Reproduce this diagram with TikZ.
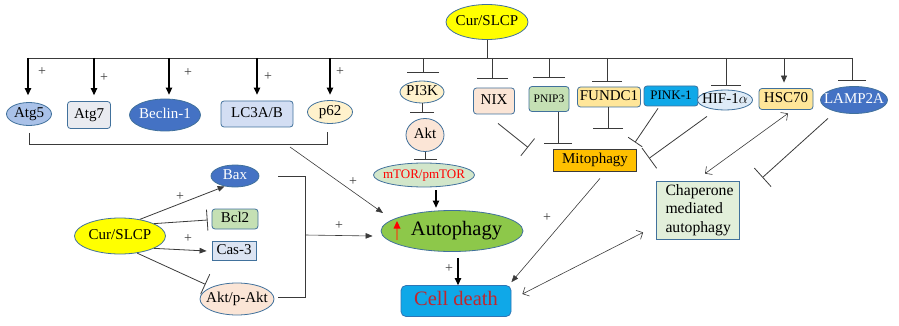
\documentclass[tikz,border=0pt]{standalone}
\usepackage{fontspec}
\setmainfont{Liberation Serif}
\usetikzlibrary{shapes.geometric,arrows.meta}
\definecolor{bord}{HTML}{41719C}
\definecolor{cYel}{HTML}{FFFF00}
\definecolor{cAtg}{HTML}{A9C1E8}
\definecolor{cGray}{HTML}{E9EBF0}
\definecolor{cBlue}{HTML}{4472C4}
\definecolor{cLC}{HTML}{D3DEF3}
\definecolor{cCream}{HTML}{FFF2CC}
\definecolor{cPeach}{HTML}{FBE5D6}
\definecolor{cMtor}{HTML}{D2E6CA}
\definecolor{cGreen}{HTML}{C5E0B4}
\definecolor{cGold}{HTML}{FFE699}
\definecolor{cCyan}{HTML}{0FA8E8}
\definecolor{cHif}{HTML}{DEEBF7}
\definecolor{cOrange}{HTML}{FFC000}
\definecolor{cAuto}{HTML}{8DC84A}
\definecolor{cChap}{HTML}{E2EFDA}
\definecolor{cCas}{HTML}{DCE4F2}
\definecolor{cRed}{HTML}{C0262D}
\definecolor{cDeath}{HTML}{2F75B5}
\definecolor{cShaft}{HTML}{C8782A}
\definecolor{ln}{HTML}{3A3A3A}
\begin{document}
\begin{tikzpicture}[x=1pt,y=-1pt,
  box/.style={draw=bord, line width=0.8pt, rounded corners=3pt, inner sep=0pt,
    text height=10pt, text depth=3pt, font=\fontsize{15}{17}\selectfont},
  ell/.style={ellipse, draw=bord, line width=0.8pt, inner xsep=-12pt, inner ysep=-4pt,
    text height=10pt, text depth=3pt, font=\fontsize{15}{17}\selectfont},
  chapbox/.style={draw=bord, line width=0.8pt, inner sep=0pt, align=left,
    font=\fontsize{15.7}{18.5}\selectfont},
  act/.style={draw=black, line width=1.3pt, -{Triangle[length=7pt,width=6.5pt]}},
  lnthin/.style={draw=ln, line width=0.6pt},
  tarrow/.style={lnthin, -{Triangle[length=7pt,width=5.5pt]}},
  dbl/.style={lnthin, {Straight Barb[length=5pt,width=10pt]}-{Straight Barb[length=5pt,width=10pt]}},
  inh/.style={draw=ln, line width=0.8pt, -{Bar[width=#1]}},
  inh/.default=30pt,
  pl/.style={font=\fontsize{14}{14}\selectfont, inner sep=0pt, text=ln}]
\useasboundingbox (0,0) rectangle (899,326);

% ---- nodes ----
\node[ell, fill=cYel, minimum width=82pt, minimum height=35pt] (cur1) at (487,22) {Cur/SLCP};
\node[ell, fill=cAtg, minimum width=45pt, minimum height=23pt] (atg5) at (29,114) {Atg5};
\node[box, fill=cGray, minimum width=43pt, minimum height=27pt] (atg7) at (89,115) {Atg7};
\node[ell, fill=cBlue, text=white, minimum width=71pt, minimum height=32pt] (beclin) at (165,115) {Beclin-1};
\node[box, fill=cLC, minimum width=72pt, minimum height=26pt] (lc3) at (257,114) {LC3A/B};
\node[ell, fill=cCream, minimum width=45pt, minimum height=23pt] (p62) at (330,112) {p62};
\node[ell, fill=cCream, minimum width=44pt, minimum height=22pt] (pi3k) at (422,92) {PI3K};
\node[ell, fill=cPeach, minimum width=38pt, minimum height=33pt] (akt) at (425,135) {Akt};
\node[ell, fill=cMtor, text=red, font=\fontsize{13}{15}\selectfont, minimum width=101pt, minimum height=24pt] (mtor) at (424,175) {mTOR/pmTOR};
\node[ell, fill=cAuto, font=\fontsize{20.5}{24}\selectfont, text height=13pt, text depth=4pt, minimum width=142pt, minimum height=41pt] (auto) at (452,231) {\hspace*{9pt}Autophagy};
\node[box, fill=cCyan, draw=cDeath, text=cRed, rounded corners=5pt, font=\fontsize{20.5}{24}\selectfont, text height=13pt, text depth=4pt, minimum width=110pt, minimum height=31pt] (death) at (456,301) {Cell death};
\node[box, fill=cPeach, minimum width=41pt, minimum height=26pt] (nix) at (494,101) {NIX};
\node[box, fill=cGreen, font=\fontsize{11.5}{13}\selectfont, minimum width=40pt, minimum height=25pt] (pnip) at (549,99) {PNIP3};
\node[box, fill=cGold, minimum width=63pt, minimum height=20pt] (fundc) at (609,97) {FUNDC1};
\node[box, fill=cCyan, font=\fontsize{13}{15}\selectfont, minimum width=54pt, minimum height=20pt] (pink) at (671,96) {PINK-1};
\node[ell, fill=cHif, minimum width=55pt, minimum height=20pt] (hif) at (725,100) {HIF-1$\alpha$};
\node[box, fill=cGold, minimum width=54pt, minimum height=21pt] (hsc) at (786,99) {HSC70};
\node[ell, fill=cBlue, text=white, minimum width=67pt, minimum height=27pt] (lamp) at (854,100) {LAMP2A};
\node[box, fill=cOrange, draw=ln, rounded corners=0pt, minimum width=83pt, minimum height=22pt] (mito) at (595,160) {Mitophagy};
\node[chapbox, fill=cChap, minimum width=83pt, minimum height=58pt] (chap) at (698,210) {\hspace*{3pt}Chaperone\\\hspace*{3pt}mediated\\\hspace*{3pt}autophagy};
\node[ell, fill=cYel, minimum width=91pt, minimum height=36pt] (cur2) at (120,236) {Cur/SLCP};
\node[ell, fill=cBlue, text=white, minimum width=48pt, minimum height=22pt] (bax) at (235,176) {Bax};
\node[box, fill=cGreen, minimum width=46pt, minimum height=20pt] (bcl) at (235,219) {Bcl2};
\node[box, fill=cCas, rounded corners=0pt, minimum width=44pt, minimum height=19pt] (cas) at (234,251) {Cas-3};
\node[ell, fill=cPeach, minimum width=74pt, minimum height=32pt] (aktp) at (237,299) {Akt/p-Akt};

% red up arrow inside Autophagy
\draw[cShaft, line width=1.2pt] (397,240) -- (397,227);
\fill[red] (393.5,228.5) -- (400.5,228.5) -- (397,221) -- cycle;

% ---- bus line ----
\coordinate (hl) at (0,58);
\coordinate (b1) at (28,58);
\coordinate (b2) at (94,58);
\coordinate (b3) at (169,58);
\coordinate (b4) at (257,58);
\coordinate (b5) at (330,58);
\coordinate (b6) at (423,58);
\coordinate (b7) at (492,58);
\coordinate (b8) at (549,58);
\coordinate (b9) at (607,58);
\coordinate (b10) at (726,58);
\coordinate (b11) at (784,58);
\coordinate (b12) at (852,58);
\draw[lnthin, line width=0.8pt] (cur1.south) -- (cur1.south |- hl);
\draw[lnthin, line width=0.8pt] (b1) -- (b12);

\draw[act, shorten >=7pt] (b1) -- (b1 |- atg5.north);
\draw[act, shorten >=6pt] (b2) -- (b2 |- atg7.north);
\draw[act, shorten >=4pt] (b3) -- (b3 |- beclin.north);
\draw[act, shorten >=6pt] (b4) -- (b4 |- lc3.north);
\draw[act, shorten >=5.5pt] (b5) -- (b5 |- p62.north);
\node[pl] (pA) at (42,72) {+};
\node[pl] (pB) at (104,78) {+};
\node[pl] (pC) at (188,73) {+};
\node[pl] (pD) at (268,77) {+};
\node[pl] (pE) at (340,72) {+};

\draw[inh=32pt, shorten >=8pt] (b6) -- (b6 |- pi3k.north);
\draw[inh=31pt, shorten >=9pt] (b7) -- (b7 |- nix.north);
\draw[inh=32pt, shorten >=8.5pt] (b8) -- (b8 |- pnip.north);
\draw[inh=30pt, shorten >=5pt] (b9) -- (b9 |- fundc.north);
\draw[inh=30pt, shorten >=4pt] (b10) -- (b10 |- hif.north);
\draw[lnthin, line width=0.8pt, -{Triangle[length=7pt,width=6pt]}, shorten >=5.5pt] (b11) -- (b11 |- hsc.north);
\draw[inh=28pt, shorten >=5.5pt] (b12) -- (b12 |- lamp.north);

% ---- bracket under autophagy genes ----
\draw[lnthin] ([yshift=-7pt]atg5.south) -- ++(0,11) -| ([xshift=-3pt,yshift=-8pt]p62.south);
\coordinate (brkout) at (290,147);
\coordinate (autoIn) at (383,213);
\draw[tarrow] (brkout) -- (autoIn);
\node[pl] (pF) at (353,182) {+};

% ---- PI3K / Akt / mTOR ----
\draw[inh=24pt, shorten >=5pt] (pi3k.south) -- (pi3k.south |- akt.north);
\draw[inh=23pt, shorten >=3pt] (akt.south) -- (akt.south |- mtor.north);
\draw[act, line width=1.1pt] ([xshift=12pt,yshift=-3pt]mtor.south) -- ([xshift=-16pt,yshift=2.5pt]auto.north);
\draw[act, line width=1.1pt] ([xshift=6pt,yshift=-6pt]auto.south) -- ([xshift=2pt]death.north);
\node[pl] (pG) at (449,269) {+};

% ---- mitophagy regulators ----
\draw[inh=30pt] ([xshift=-1pt]fundc.south) -- ([xshift=-1pt,yshift=-21pt]fundc.south);
\draw[inh=28pt] ([xshift=9pt]pnip.south) -- ([xshift=9pt,yshift=-31.5pt]pnip.south);
\draw[inh=22pt] ([shift={(4pt,-9pt)}]nix.south) -- ([shift={(34pt,-33pt)}]nix.south);
\draw[inh=17pt] ([shift={(-13pt,-2pt)}]pink.south) -- ([shift={(-36pt,-36pt)}]pink.south);
\draw[inh=25pt] ([shift={(-18pt,-6pt)}]hif.south) -- ([shift={(-76pt,-48pt)}]hif.south);
\draw[tarrow] ([shift={(5pt,-7pt)}]mito.south) -- ([yshift=3pt]death.north east);
\node[pl] (pH) at (547,218) {+};

% ---- chaperone mediated autophagy ----
\draw[dbl] ([shift={(11pt,7pt)}]death.east) -- ([shift={(-13pt,7pt)}]chap.south west);
\draw[dbl] ([shift={(7pt,7pt)}]chap.north) -- ([shift={(2pt,-3.5pt)}]hsc.south);
\draw[inh=25pt] ([shift={(-26pt,-4.5pt)}]lamp.south) -- ([shift={(22.5pt,3pt)}]chap.north east);

% ---- lower-left Cur/SLCP ----
\draw[tarrow, line width=0.8pt] (cur2.40) -- (bax.225);
\node[pl] (pI) at (180,197) {+};
\draw[inh=21pt] (cur2.20) -- ([xshift=-4pt,yshift=-1pt]bcl.west);
\draw[tarrow, line width=0.8pt] (cur2.-20) -- ([xshift=-5pt]cas.west);
\node[pl] (pJ) at (188,239) {+};
\draw[inh=22pt] (cur2.-45) -- ([shift={(-5pt,3pt)}]aktp.north west);
\draw[lnthin] ([xshift=19pt]bax.east) -- ++(27,0) |- ([xshift=4pt,yshift=2pt]aktp.east);
\coordinate (bm) at (305,235);
\draw[tarrow] (bm) -- ([shift={(-8pt,-5pt)}]auto.west);
\node[pl] (pK) at (339,226) {+};
\end{tikzpicture}
\end{document}
